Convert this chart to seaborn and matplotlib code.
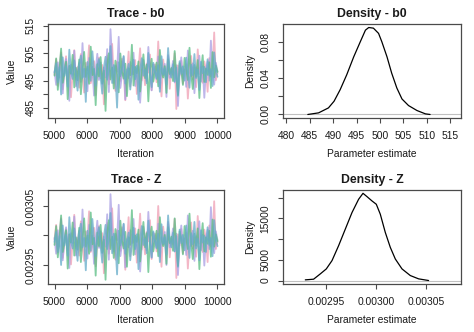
import numpy as np
import pandas as pd
import matplotlib
matplotlib.use("Agg")
import matplotlib.pyplot as plt
import seaborn as sns

# ---------------- data ----------------
chain_names = ["chain1", "chain2", "chain3", "chain4"]
chain_colors = ["#ef9fb4", "#a99fe3", "#58bd82", "#65abc9"]

b0_chain1 = [497.2, 502.8, 493.1, 499.6, 505.3, 491.8, 498.4, 503.9, 494.7, 500.2,
             488.9, 497.8, 506.1, 495.3, 499.9, 492.4, 504.7, 497.0, 490.6, 501.5,
             498.8, 507.9, 494.0, 496.6, 502.1, 489.7, 499.3, 503.4, 495.8, 500.7,
             486.3, 498.1, 504.2, 493.6, 497.5, 508.4, 496.0, 491.2, 501.9, 498.6,
             494.9, 503.0, 499.1, 487.8, 496.9, 505.6, 492.8, 500.4, 497.3, 502.5,
             490.1, 498.9, 506.8, 495.0, 499.7, 493.3, 501.2, 497.9, 504.5, 491.5,
             498.2, 500.9, 494.4, 509.3, 496.3, 489.2, 502.7, 498.0, 495.6, 503.6,
             492.0, 499.4, 497.1, 505.0, 484.6, 500.6, 496.8, 502.3, 493.9, 498.5,
             501.0, 488.4, 497.6, 504.0, 495.4, 499.8, 492.6, 506.4, 497.4, 500.1,
             494.2, 502.0, 498.7, 490.9, 503.2, 496.5, 499.0, 512.6, 495.1, 497.7]
b0_chain2 = [498.5, 493.4, 501.7, 496.2, 504.6, 490.3, 499.5, 502.9, 495.7, 487.6,
             500.8, 497.1, 505.9, 492.9, 498.3, 501.4, 494.5, 508.7, 496.4, 499.2,
             491.1, 503.3, 497.7, 500.0, 489.5, 498.9, 504.8, 495.2, 501.6, 493.7,
             499.8, 496.1, 506.5, 490.8, 513.8, 502.4, 494.1, 500.5, 498.2, 511.0,
             492.3, 497.4, 503.7, 488.1, 499.1, 495.9, 501.8, 497.2, 505.2, 493.0,
             498.6, 500.3, 486.9, 496.7, 502.6, 499.4, 494.8, 507.3, 497.6, 491.4,
             500.9, 498.0, 495.5, 503.8, 492.2, 499.6, 497.0, 501.1, 489.0, 504.3,
             496.0, 498.4, 502.2, 494.3, 500.6, 485.7, 497.3, 503.5, 495.8, 499.0,
             492.7, 506.0, 498.1, 496.6, 501.3, 490.4, 499.9, 497.5, 504.1, 494.6,
             500.2, 488.7, 498.8, 502.0, 495.0, 509.6, 497.8, 493.5, 501.5, 498.3]
b0_chain3 = [496.8, 503.1, 491.6, 499.0, 506.7, 494.2, 498.0, 501.9, 488.2, 500.4,
             497.5, 504.4, 492.5, 499.7, 495.1, 502.7, 490.0, 498.6, 505.5, 496.3,
             500.1, 493.8, 507.4, 497.0, 499.3, 486.0, 501.0, 496.5, 503.6, 494.0,
             498.7, 483.9, 500.6, 505.0, 495.4, 499.8, 492.1, 502.3, 497.2, 490.7,
             504.9, 498.2, 495.7, 501.2, 489.3, 499.5, 496.9, 508.1, 493.2, 500.0,
             497.7, 502.0, 491.0, 498.4, 504.6, 495.9, 500.8, 487.4, 499.2, 503.0,
             494.6, 497.9, 501.6, 492.9, 506.2, 498.3, 496.1, 500.3, 490.5, 502.8,
             497.4, 499.6, 494.8, 505.8, 496.7, 489.8, 501.4, 498.9, 493.4, 503.3,
             499.1, 495.2, 507.0, 497.6, 491.9, 500.7, 496.4, 502.5, 488.6, 498.5,
             504.3, 494.5, 499.4, 497.1, 501.7, 492.3, 505.4, 496.2, 500.5, 498.1]
b0_chain4 = [497.9, 501.3, 494.3, 499.9, 489.9, 503.5, 496.7, 500.3, 492.8, 506.3,
             498.1, 495.6, 502.4, 497.3, 491.3, 500.9, 504.1, 496.0, 499.4, 487.2,
             501.8, 497.6, 494.9, 505.7, 498.5, 493.1, 500.0, 502.9, 496.2, 490.2,
             499.7, 503.7, 495.3, 498.8, 507.6, 494.1, 500.7, 497.0, 485.1, 501.7,
             496.6, 499.3, 504.0, 493.9, 498.0, 501.1, 491.7, 497.5, 502.6, 495.5,
             500.4, 488.0, 498.7, 503.2, 496.8, 499.0, 494.0, 505.1, 497.8, 492.6,
             501.5, 498.4, 495.8, 500.6, 490.9, 503.9, 497.2, 499.5, 493.6, 506.9,
             498.6, 496.1, 501.0, 494.7, 499.8, 489.4, 502.1, 497.4, 500.2, 495.0,
             503.4, 498.3, 492.4, 500.8, 497.0, 504.7, 495.9, 499.1, 491.6, 501.9,
             497.7, 500.0, 494.4, 502.8, 496.9, 499.2, 493.0, 505.3, 498.9, 496.4]

z_chain1 = [0.002993, 0.003018, 0.002971, 0.002998, 0.003029, 0.002962, 0.002987, 0.003011, 0.002975, 0.003002,
            0.002951, 0.002990, 0.003035, 0.002978, 0.002996, 0.002966, 0.003024, 0.002985, 0.002957, 0.003007,
            0.002994, 0.003041, 0.002972, 0.002983, 0.003013, 0.002948, 0.002992, 0.003016, 0.002979, 0.003004,
            0.002936, 0.002989, 0.003021, 0.002969, 0.002986, 0.003046, 0.002980, 0.002959, 0.003009, 0.002991,
            0.002974, 0.003014, 0.002995, 0.002942, 0.002984, 0.003031, 0.002965, 0.003001, 0.002988, 0.003012,
            0.002954, 0.002993, 0.003037, 0.002976, 0.002997, 0.002968, 0.003006, 0.002990, 0.003026, 0.002960,
            0.002991, 0.003003, 0.002973, 0.003050, 0.002982, 0.002947, 0.003015, 0.002989, 0.002977, 0.003019,
            0.002963, 0.002995, 0.002985, 0.003028, 0.002928, 0.003002, 0.002983, 0.003011, 0.002970, 0.002992,
            0.003005, 0.002944, 0.002988, 0.003022, 0.002978, 0.002997, 0.002964, 0.003033, 0.002986, 0.003000,
            0.002972, 0.003010, 0.002993, 0.002955, 0.003017, 0.002981, 0.002994, 0.003058, 0.002977, 0.002989]
z_chain2 = [0.002996, 0.002969, 0.003009, 0.002982, 0.003027, 0.002958, 0.002993, 0.003014, 0.002977, 0.002945,
            0.003004, 0.002987, 0.003032, 0.002966, 0.002991, 0.003008, 0.002974, 0.003044, 0.002983, 0.002995,
            0.002961, 0.003018, 0.002988, 0.003000, 0.002952, 0.002994, 0.003025, 0.002979, 0.003007, 0.002970,
            0.002998, 0.002981, 0.003036, 0.002959, 0.003070, 0.003013, 0.002973, 0.003003, 0.002992, 0.003052,
            0.002965, 0.002986, 0.003019, 0.002946, 0.002994, 0.002980, 0.003009, 0.002987, 0.003028, 0.002968,
            0.002993, 0.003002, 0.002939, 0.002983, 0.003015, 0.002996, 0.002975, 0.003040, 0.002988, 0.002962,
            0.003005, 0.002990, 0.002978, 0.003020, 0.002964, 0.002997, 0.002985, 0.003006, 0.002950, 0.003023,
            0.002980, 0.002992, 0.003012, 0.002973, 0.003003, 0.002933, 0.002987, 0.003017, 0.002979, 0.002995,
            0.002967, 0.003034, 0.002991, 0.002982, 0.003008, 0.002957, 0.002999, 0.002988, 0.003024, 0.002975,
            0.003001, 0.002949, 0.002994, 0.003010, 0.002977, 0.003048, 0.002990, 0.002970, 0.003007, 0.002992]
z_chain3 = [0.002984, 0.003016, 0.002963, 0.002995, 0.003034, 0.002972, 0.002990, 0.003009, 0.002944, 0.003002,
            0.002988, 0.003022, 0.002966, 0.002997, 0.002976, 0.003013, 0.002955, 0.002993, 0.003029, 0.002981,
            0.003000, 0.002969, 0.003039, 0.002985, 0.002996, 0.002932, 0.003005, 0.002982, 0.003018, 0.002971,
            0.002993, 0.002925, 0.003003, 0.003026, 0.002977, 0.002998, 0.002962, 0.003011, 0.002986, 0.002953,
            0.003025, 0.002991, 0.002978, 0.003006, 0.002947, 0.002997, 0.002984, 0.003043, 0.002967, 0.003000,
            0.002989, 0.003010, 0.002956, 0.002992, 0.003023, 0.002980, 0.003004, 0.002938, 0.002996, 0.003015,
            0.002973, 0.002990, 0.003008, 0.002965, 0.003031, 0.002993, 0.002982, 0.003001, 0.002952, 0.003014,
            0.002987, 0.002998, 0.002974, 0.003029, 0.002984, 0.002949, 0.003007, 0.002994, 0.002968, 0.003016,
            0.002995, 0.002977, 0.003037, 0.002988, 0.002960, 0.003003, 0.002983, 0.003012, 0.002943, 0.002992,
            0.003021, 0.002973, 0.002997, 0.002986, 0.003008, 0.002964, 0.003027, 0.002981, 0.003002, 0.002990]
z_chain4 = [0.002989, 0.003006, 0.002972, 0.002999, 0.002950, 0.003017, 0.002983, 0.003001, 0.002966, 0.003031,
            0.002990, 0.002978, 0.003012, 0.002986, 0.002957, 0.003004, 0.003020, 0.002980, 0.002996, 0.002941,
            0.003008, 0.002988, 0.002974, 0.003028, 0.002992, 0.002965, 0.003000, 0.003014, 0.002981, 0.002954,
            0.002998, 0.003018, 0.002977, 0.002994, 0.003038, 0.002970, 0.003003, 0.002985, 0.002934, 0.003008,
            0.002983, 0.002996, 0.003020, 0.002969, 0.002990, 0.003005, 0.002958, 0.002987, 0.003013, 0.002977,
            0.003002, 0.002943, 0.002993, 0.003016, 0.002984, 0.002995, 0.002970, 0.003025, 0.002989, 0.002963,
            0.003007, 0.002992, 0.002979, 0.003003, 0.002955, 0.003019, 0.002986, 0.002997, 0.002968, 0.003034,
            0.002993, 0.002980, 0.003005, 0.002973, 0.002999, 0.002947, 0.003010, 0.002987, 0.003001, 0.002975,
            0.003017, 0.002991, 0.002962, 0.003004, 0.002985, 0.003023, 0.002978, 0.002995, 0.002958, 0.003009,
            0.002988, 0.003000, 0.002972, 0.003014, 0.002984, 0.002996, 0.002965, 0.003026, 0.002993, 0.002982]

b0_density_x = [484.6, 486.9, 489.0, 490.2, 491.5, 492.9, 494.4, 495.8, 496.9, 497.6,
                498.6, 499.7, 500.4, 501.5, 502.5, 503.6, 504.7, 506.1, 507.9, 509.7, 510.7]
b0_density_y = [0.0000, 0.0018, 0.0073, 0.0147, 0.0275, 0.0440, 0.0640, 0.0807, 0.0936, 0.0965,
                0.0958, 0.0900, 0.0807, 0.0640, 0.0459, 0.0294, 0.0172, 0.0099, 0.0044, 0.0007, 0.0000]

z_density_x = [0.0029290, 0.0029373, 0.0029440, 0.0029500, 0.0029557, 0.0029623, 0.0029690,
               0.0029757, 0.0029823, 0.0029867, 0.0029907, 0.0029957, 0.0030000, 0.0030040,
               0.0030090, 0.0030140, 0.0030190, 0.0030257, 0.0030340, 0.0030423, 0.0030523]
z_density_y = [160, 320, 1600, 2800, 4800, 8400, 12400, 16400, 19600, 21040, 20240,
               19200, 18400, 16000, 11600, 8000, 5200, 2800, 1200, 400, 0]

iter_start, iter_end = 5000, 10000
trace_xticks = [5000, 6000, 7000, 8000, 9000, 10000]
b0_trace_yticks = [485, 490, 495, 500, 505, 510, 515]
b0_trace_ylabels = ["485", "", "495", "", "505", "", "515"]
z_trace_yticks = [0.00295, 0.00300, 0.00305]
z_trace_ylabels = ["0.00295", "", "0.00305"]
b0_dens_xticks = [480, 485, 490, 495, 500, 505, 510, 515]
b0_dens_yticks = [0.00, 0.02, 0.04, 0.06, 0.08]
b0_dens_ylabels = ["0.00", "", "0.04", "", "0.08"]
z_dens_xticks = [0.00295, 0.00300, 0.00305]
z_dens_xlabels = ["0.00295", "0.00300", "0.00305"]
z_dens_yticks = [0, 5000, 10000, 15000, 20000]
z_dens_ylabels = ["0", "5000", "", "15000", ""]

# ---------------- style ----------------
sns.set_style("white")
plt.rcParams["font.family"] = ["Liberation Sans", "DejaVu Sans"]
TXT = "#1a1a1a"
BOX = "#4a4a4a"
FS = 7.4

fig = plt.figure(figsize=(4.74, 3.32), dpi=100)
W, H = 474, 332


def make_ax(l, t, r, b):
    return fig.add_axes([l / W, 1 - b / H, (r - l) / W, (b - t) / H])


def style(ax, title, xlabel, ylabel, ylab_off):
    for s in ax.spines.values():
        s.set_visible(True)
        s.set_color(BOX)
        s.set_linewidth(0.9)
    ax.tick_params(axis="both", which="both", direction="out", length=3.6,
                   width=0.8, color=BOX, labelsize=FS, labelcolor=TXT,
                   bottom=True, left=True, top=False, right=False)
    ax.tick_params(axis="x", pad=6)
    ax.tick_params(axis="y", pad=5.5)
    for lab in ax.get_yticklabels():
        lab.set_rotation(90)
        lab.set_va("center")
    ax.set_title(title, fontsize=8.8, fontweight="bold", color=TXT, pad=4.8)
    ax.set_xlabel(xlabel, fontsize=FS, color=TXT)
    ax.set_ylabel(ylabel, fontsize=FS, color=TXT)
    h = ax.get_position().height * H
    w = ax.get_position().width * W
    ax.xaxis.set_label_coords(0.5, -36 / h)
    ax.xaxis.label.set_va("center")
    ax.yaxis.set_label_coords(-ylab_off / w, 0.5)
    ax.yaxis.label.set_va("center")
    ax.grid(False)


def trace_panel(ax, chains, title, ylim, yticks, ylabels):
    n = len(chains[0])
    iters = np.linspace(iter_start, iter_end, n)
    frames = []
    for name, vals in zip(chain_names, chains):
        frames.append(pd.DataFrame({"iteration": iters, "value": vals, "chain": name}))
    df = pd.concat(frames, ignore_index=True)
    sns.lineplot(data=df, x="iteration", y="value", hue="chain",
                 palette=chain_colors, hue_order=chain_names, estimator=None,
                 legend=False, linewidth=1.3, alpha=0.75, ax=ax)
    ax.set_xlim(4800, 10200)
    ax.set_ylim(*ylim)
    ax.set_xticks(trace_xticks)
    ax.set_xticklabels([str(t) for t in trace_xticks])
    ax.set_yticks(yticks)
    ax.set_yticklabels(ylabels)
    style(ax, title, "Iteration", "Value", 36)


def density_panel(ax, xs, ys, title, xlim, ylim, xticks, xlabels, yticks, ylabels):
    ax.axhline(0, color="#c0c0c0", linewidth=0.8, zorder=1)
    sns.lineplot(x=xs, y=ys, color="black", linewidth=0.9, ax=ax, zorder=3)
    ax.set_xlim(*xlim)
    ax.set_ylim(*ylim)
    ax.set_xticks(xticks)
    ax.set_xticklabels(xlabels)
    ax.set_yticks(yticks)
    ax.set_yticklabels(ylabels)
    style(ax, title, "Parameter estimate", "Density", 33)


ax1 = make_ax(48, 24, 224, 118)
trace_panel(ax1, [b0_chain1, b0_chain2, b0_chain3, b0_chain4], "Trace - b0",
            (481.3, 515.7), b0_trace_yticks, b0_trace_ylabels)

ax2 = make_ax(283, 24, 461, 118)
density_panel(ax2, b0_density_x, b0_density_y, "Density - b0",
              (479.3, 517.3), (-0.0039, 0.1004),
              b0_dens_xticks, [str(t) for t in b0_dens_xticks],
              b0_dens_yticks, b0_dens_ylabels)

ax3 = make_ax(48, 190, 224, 284)
trace_panel(ax3, [z_chain1, z_chain2, z_chain3, z_chain4], "Trace - Z",
            (0.0029178, 0.0030771), z_trace_yticks, z_trace_ylabels)

ax4 = make_ax(283, 190, 461, 284)
density_panel(ax4, z_density_x, z_density_y, "Density - Z",
              (0.0029067, 0.0030847), (-840, 21840),
              z_dens_xticks, z_dens_xlabels, z_dens_yticks, z_dens_ylabels)

fig.savefig("out.png", dpi=100, facecolor="white")
